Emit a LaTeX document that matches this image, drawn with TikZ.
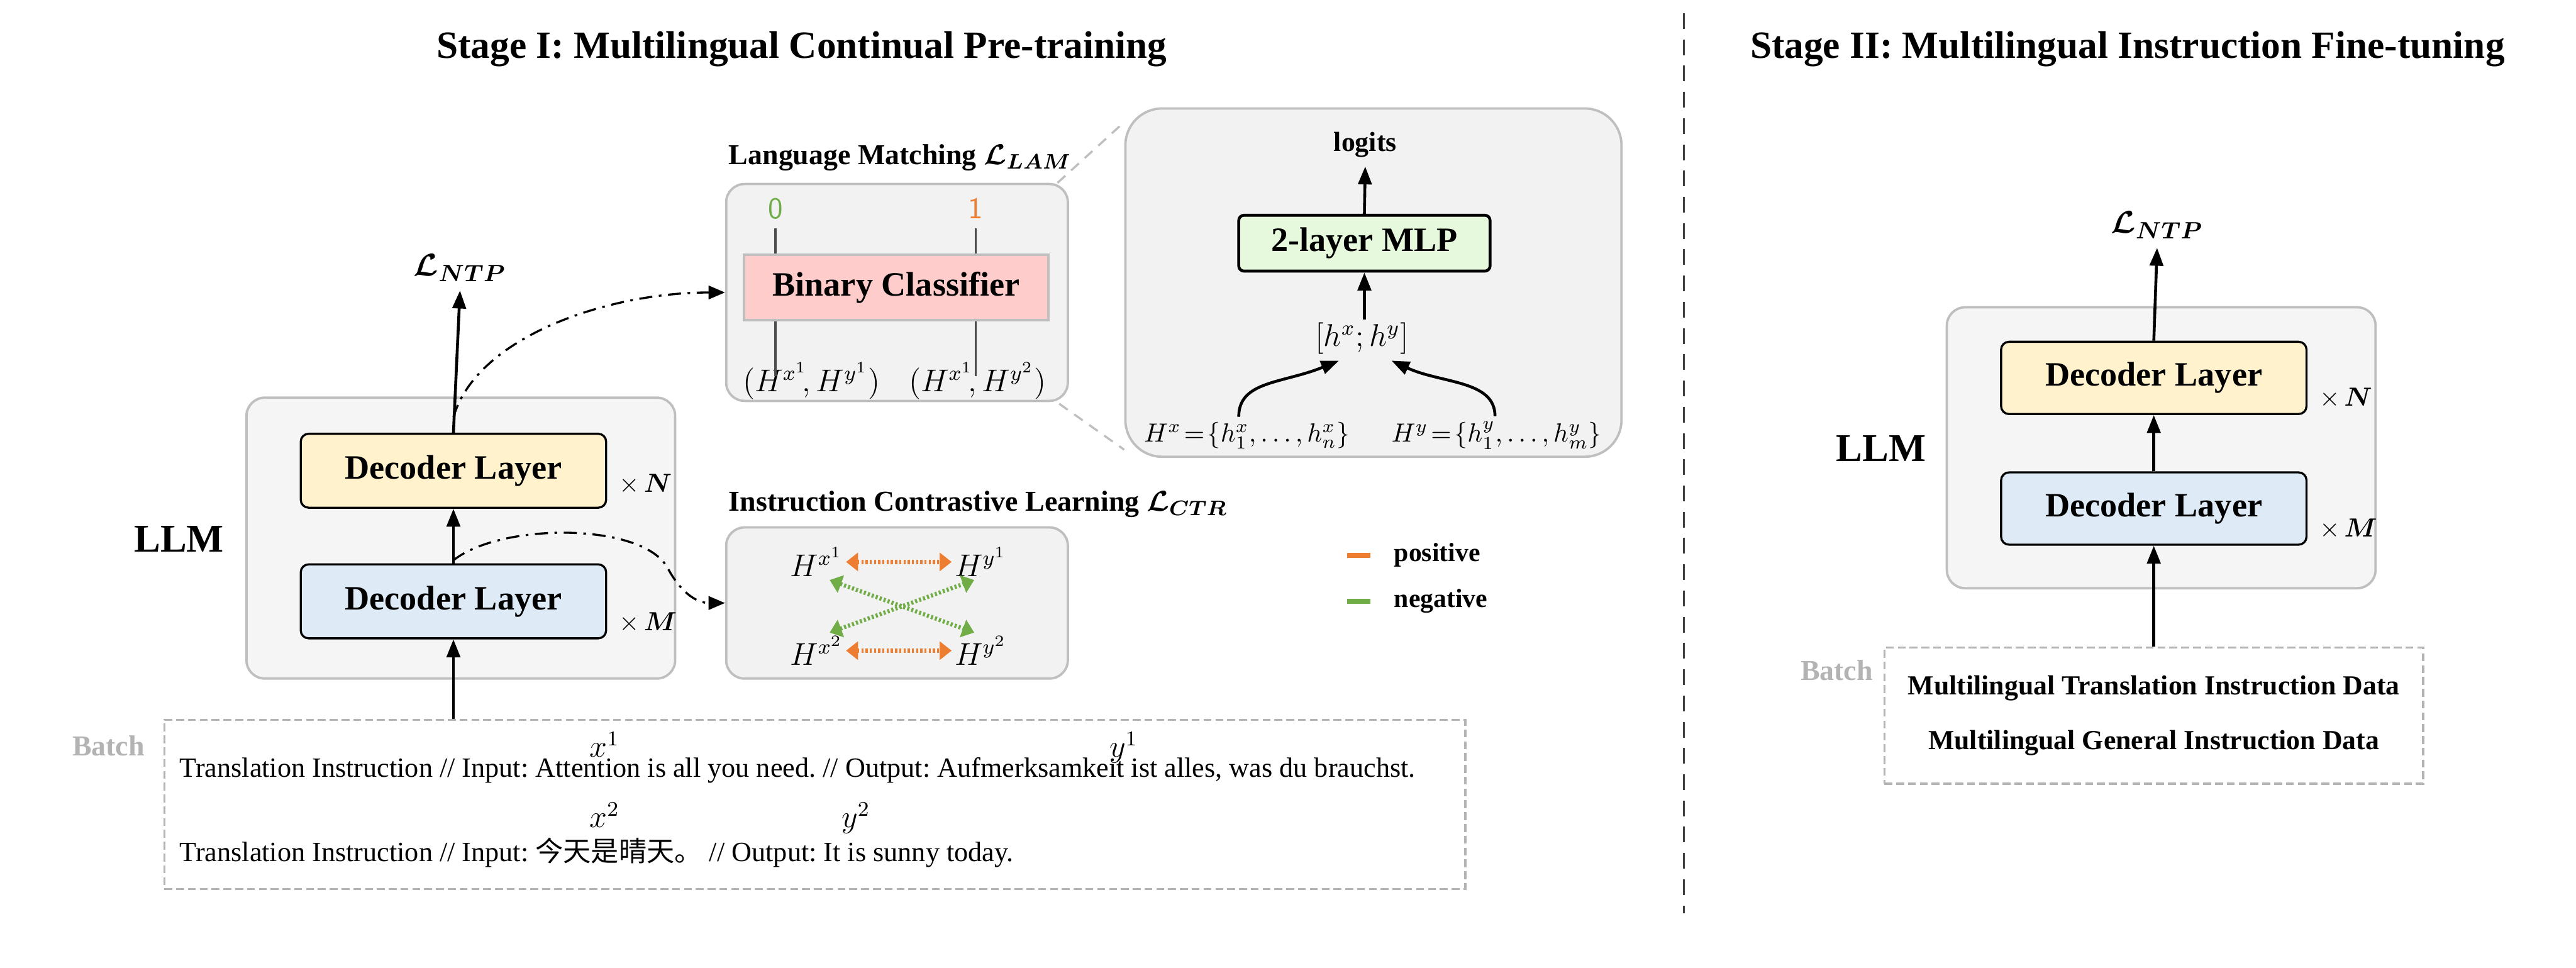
\documentclass[tikz,border=0pt]{standalone}
\usepackage{amsmath,amssymb,bm}
\usepackage{fontspec}
\setmainfont{Liberation Serif}
\newfontfamily\cjkfont{Noto Sans CJK SC}
\usepackage{xcolor}
\usetikzlibrary{arrows.meta,positioning,calc}
\frenchspacing

\definecolor{llmgray}{HTML}{F5F5F5}
\definecolor{panelgray}{HTML}{F2F2F2}
\definecolor{edgegray}{HTML}{BFBFBF}
\definecolor{decyellow}{HTML}{FFF2CC}
\definecolor{decblue}{HTML}{DEEBF7}
\definecolor{clspink}{HTML}{FFCCCC}
\definecolor{mlpgreen}{HTML}{E6F9DC}
\definecolor{posorange}{HTML}{ED7D31}
\definecolor{neggreen}{HTML}{70AD47}
\definecolor{batchgray}{HTML}{B3B3B3}

\tikzset{
	container/.style={draw=edgegray, fill=llmgray, rounded corners=7pt, line width=0.9pt, inner sep=0pt},
	panel/.style={draw=edgegray, fill=panelgray, rounded corners=7pt, line width=0.9pt, inner sep=0pt},
	declayer/.style={draw=black, rounded corners=3pt, line width=0.8pt, minimum width=4.09cm, minimum height=0.99cm, inner sep=0pt, font=\fontsize{13}{15}\selectfont\bfseries},
	batchbox/.style={draw=batchgray, dash pattern=on 3pt off 1.5pt, line width=0.8pt, inner sep=0pt},
	flow/.style={-{Triangle[length=2.4mm,width=1.8mm]}, line width=1.1pt},
	hop/.style={-{Triangle[length=2.2mm,width=1.8mm]}, line width=0.8pt, dash pattern=on 5pt off 2.5pt on 1pt off 2.5pt},
	pairline/.style={{Triangle[length=1.6mm,width=2.4mm]}-{Triangle[length=1.6mm,width=2.4mm]}, line width=1.6pt, dash pattern=on 0.8pt off 0.8pt},
	headline/.style={font=\fontsize{14.7}{17}\selectfont\bfseries},
	subhead/.style={font=\fontsize{11}{13}\selectfont\bfseries},
	legendtext/.style={font=\fontsize{10}{12}\selectfont\bfseries},
	bodytext/.style={font=\fontsize{10.6}{12}\selectfont, inner sep=0pt},
	mathtext/.style={font=\fontsize{11.5}{13}\selectfont, inner sep=1pt},
}

\begin{document}
\begin{tikzpicture}[x=0.022cm, y=-0.022cm]
	\useasboundingbox (0,0) rectangle (1568,589);
	
	% titles
	\node[headline] (title1) at (488,30) {Stage I: Multilingual Continual Pre-training};
	\node[headline] (title2) at (1295,30) {Stage II: Multilingual Instruction Fine-tuning};
	\draw[black!75, line width=0.9pt, dash pattern=on 6pt off 4pt] (1025,8) -- (1025,556);
	
	% stage I: LLM
	\node[container, minimum width=5.742cm, minimum height=3.762cm] (llm1) at (280.5,327.5) {};
	\node[declayer, fill=decyellow] (dec1n) at (276,286.5) {Decoder Layer};
	\node[declayer, fill=decblue] (dec1m) at (276,366) {Decoder Layer};
	\node[right=1pt of dec1n.south east, anchor=south west, yshift=2pt] (rep1n) {$\times\,\bm{N}$};
	\node[right=1pt of dec1m.south east, anchor=south west, yshift=-1pt] (rep1m) {$\times\,\bm{M}$};
	\node[font=\fontsize{15}{17}\selectfont\bfseries] (llmlab1) at (109,328) {LLM};
	\node[font=\fontsize{13}{15}\selectfont] (ntp1) at (280,163) {$\bm{\mathcal{L}_{NTP}}$};
	\draw[flow] (dec1n.north) -- (ntp1.south);
	\draw[flow] (dec1m.north) -- (dec1n.south);
	
	% stage I: batch
	\node[batchbox, minimum width=17.424cm, minimum height=2.266cm] (batch1) at (496,489.5) {};
	\node[font=\fontsize{11}{13}\selectfont\bfseries, text=batchgray] (batchlab1) at (66,454) {Batch};
	\draw[flow] (batch1.north -| dec1m.south) -- (dec1m.south);
	\node[bodytext, anchor=west] (line1) at (109,469) {Translation Instruction // Input: Attention is all you need. // Output: Aufmerksamkeit ist alles, was du brauchst.};
	\node[bodytext, anchor=west] (line2) at (109,519) {Translation Instruction // Input: {\cjkfont 今天是晴天。} // Output: It is sunny today.};
	\node[mathtext] (sx1) at (368,453) {$x^1$};
	\node[mathtext] (sy1) at (684,455) {$y^1$};
	\node[mathtext] (sx2) at (368,496) {$x^2$};
	\node[mathtext] (sy2) at (521,498) {$y^2$};
	
	% language matching
	\node[subhead, anchor=west] (lamtitle) at (438,96) {Language Matching $\bm{\mathcal{L}_{LAM}}$};
	\node[panel, minimum width=4.576cm, minimum height=2.904cm] (lam) at (546,178) {};
	\node[draw=edgegray, fill=clspink, line width=1pt, minimum width=4.07cm, minimum height=0.88cm, inner sep=0pt, font=\fontsize{13}{15}\selectfont\bfseries] (cls) at (545.5,175) {Binary Classifier};
	\node[text=neggreen, font=\fontsize{11.5}{13}\sffamily] (zero) at (472,127) {0};
	\node[text=posorange, font=\fontsize{11.5}{13}\sffamily] (one) at (594,127) {1};
	\node[mathtext] (pair1) at (494,232) {$(H^{x^1}\!,H^{y^1})$};
	\node[mathtext] (pair2) at (595,232) {$(H^{x^1}\!,H^{y^2})$};
	\draw[black!70, line width=0.8pt] (cls.north -| zero) -- (zero.south);
	\draw[black!70, line width=0.8pt] (cls.north -| one) -- (one.south);
	\draw[black!70, line width=0.8pt] (cls.south -| zero) -- ++(0,33);
	\draw[black!70, line width=0.8pt] (cls.south -| one) -- ++(0,33);
	
	% zoomed MLP panel
	\node[panel, rounded corners=14pt, minimum width=6.644cm, minimum height=4.664cm] (mlppanel) at (836,172) {};
	\draw[edgegray, line width=0.8pt, dash pattern=on 4pt off 3pt] ($(lam.north east)+(-7,0)$) -- ($(mlppanel.north west)+(0,9)$);
	\draw[edgegray, line width=0.8pt, dash pattern=on 4pt off 3pt] ($(lam.south east)+(-6,1)$) -- ($(mlppanel.south west)+(0,-5)$);
	\node[draw=black, fill=mlpgreen, rounded corners=2pt, line width=1.1pt, minimum width=3.366cm, minimum height=0.748cm, inner sep=0pt, font=\fontsize{13}{15}\selectfont\bfseries] (mlp) at (830.5,148) {2-layer MLP};
	\node[font=\fontsize{10.5}{12}\selectfont\bfseries] (logits) at (831,88) {logits};
	\node[mathtext] (concat) at (829,206) {$[h^x;h^y]$};
	\node[font=\fontsize{10.2}{12}\selectfont, inner sep=0pt] (setx) at (759,265) {$H^x\!=\!\{h^x_1,\ldots,h^x_n\}$};
	\node[font=\fontsize{10.2}{12}\selectfont, inner sep=0pt] (sety) at (911,265) {$H^y\!=\!\{h^y_1,\ldots,h^y_m\}$};
	\draw[flow] (mlp.north) -- (logits.south);
	\draw[flow] (concat.north -| mlp.south) -- (mlp.south);
	\draw[flow] ($(setx.north)+(-5,-3)$) .. controls ($(setx.north)+(-5,-25)$) and ($(concat.south west)+(-18,16)$) .. ($(concat.south)+(-14,2)$);
	\draw[flow] ($(sety.north)+(-1,-3)$) .. controls ($(sety.north)+(-1,-25)$) and ($(concat.south east)+(18,16)$) .. ($(concat.south)+(18,2)$);
	
	% instruction contrastive learning
	\node[subhead, anchor=west] (ctrtitle) at (438,307) {Instruction Contrastive Learning $\bm{\mathcal{L}_{CTR}}$};
	\node[panel, minimum width=4.576cm, minimum height=2.024cm] (ctr) at (546,367) {};
	\node[mathtext] (hx1) at (497,342) {$H^{x^1}$};
	\node[mathtext] (hy1) at (597,342) {$H^{y^1}$};
	\node[mathtext] (hx2) at (497,396) {$H^{x^2}$};
	\node[mathtext] (hy2) at (597,396) {$H^{y^2}$};
	\draw[pairline, posorange] (hx1.east) -- (hy1.west |- hx1.east);
	\draw[pairline, posorange] (hx2.east) -- (hy2.west |- hx2.east);
	\draw[pairline, neggreen] ($(hx1)+(8,11)$) -- ($(hy2)+(-4,-11)$);
	\draw[pairline, neggreen] ($(hx2)+(8,-11)$) -- ($(hy1)+(-4,11)$);
	
	% legend
	\draw[posorange, line width=1.8pt] (820,338) coordinate (posa) -- (834,338) coordinate (posb);
	\draw[neggreen, line width=1.8pt] (820,366) coordinate (nega) -- (834,366) coordinate (negb);
	\node[legendtext, anchor=west] (poslab) at (843,338) {positive};
	\node[legendtext, anchor=west] (neglab) at (843,366) {negative};
	
	% hidden states sent to both losses
	\coordinate (tapn) at (276,254);
	\coordinate (tapm) at (276,341);
	\draw[hop] (tapn) .. controls (290,205) and (370,178) .. (lam.west);
	\draw[hop] (tapm) .. controls (305,318) and (390,318) .. (406,345) .. controls (415,362) and (425,367) .. (ctr.west);
	
	% stage II
	\node[container, minimum width=5.742cm, minimum height=3.762cm] (llm2) at (1315.5,272.5) {};
	\node[declayer, fill=decyellow, minimum height=0.968cm] (dec2n) at (1311,230) {Decoder Layer};
	\node[declayer, fill=decblue, minimum height=0.968cm] (dec2m) at (1311,309.5) {Decoder Layer};
	\node[right=1pt of dec2n.south east, anchor=south west, yshift=-1pt] (rep2n) {$\times\,\bm{N}$};
	\node[right=1pt of dec2m.south east, anchor=south west, yshift=-1pt] (rep2m) {$\times\,\bm{M}$};
	\node[font=\fontsize{15}{17}\selectfont\bfseries] (llmlab2) at (1145,273) {LLM};
	\node[font=\fontsize{13}{15}\selectfont] (ntp2) at (1313,137) {$\bm{\mathcal{L}_{NTP}}$};
	\draw[flow] (dec2n.north) -- (ntp2.south);
	\draw[flow] (dec2m.north) -- (dec2n.south);
	\node[batchbox, minimum width=7.216cm, minimum height=1.826cm] (batch2) at (1311,435.5) {};
	\node[font=\fontsize{11}{13}\selectfont\bfseries, text=batchgray] (batchlab2) at (1118,408) {Batch};
	\node[font=\fontsize{10.5}{12}\selectfont\bfseries] (data1) at (1311,419) {Multilingual Translation Instruction Data};
	\node[font=\fontsize{10.5}{12}\selectfont\bfseries] (data2) at (1311,452) {Multilingual General Instruction Data};
	\draw[flow] (batch2.north) -- (dec2m.south);
\end{tikzpicture}
\end{document}
